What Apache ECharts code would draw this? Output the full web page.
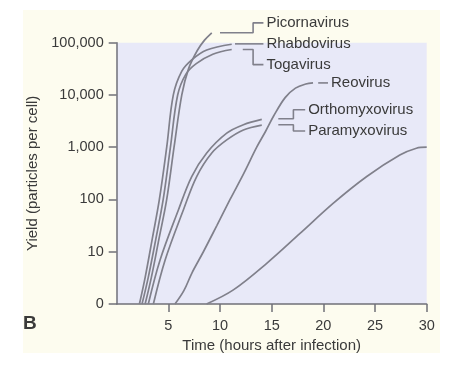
<!DOCTYPE html>
<html>
<head>
<meta charset="utf-8">
<script src="https://cdn.jsdelivr.net/npm/echarts@6/dist/echarts.min.js"></script>
<style>
html,body{margin:0;padding:0;background:#ffffff;}
#c{width:474px;height:366px;}
</style>
</head>
<body>
<div id="c"></div>
<script>
// ---- data: [hours after infection, yield (particles per cell)] ----
const picornavirus = [[2.75,1],[3.35,3.2],[4.1,18],[4.84,100],[5.55,1000],[6.3,10000],[6.95,31600],[7.8,70800],[8.5,112000],[9.2,155000]];
const rhabdovirus  = [[2.2,1],[2.75,3.2],[3.45,18],[4.13,100],[4.84,1000],[5.48,10000],[6.29,28200],[7.26,46800],[8.71,72400],[11.13,93300]];
const togavirus    = [[2.45,1],[3.05,3.2],[3.8,18],[4.5,100],[5.2,1000],[5.9,10000],[6.7,25100],[7.7,39800],[9.3,60300],[11.13,74100]];
const reovirus     = [[5.64,1],[6.5,1.8],[7.3,4],[8.39,10],[9.7,32],[10.97,100],[12.3,316],[13.55,1000],[14.4,2000],[15.2,4000],[16.3,8900],[17.3,13500],[18.3,16200],[19.0,17000]];
const orthomyxovirus = [[3.06,1],[4.19,6.9],[5.97,63],[7.26,275],[8.71,776],[10.65,1860],[12.26,2690],[14.04,3400]];
const paramyxovirus  = [[3.55,1],[4.68,6.9],[6.45,63],[7.74,275],[9.2,776],[10.65,1380],[12.26,2140],[14.04,2650]];
const retrovirus     = [[8.7,1],[11.29,1.86],[14.52,6.0],[17.74,22.4],[20.97,85],[24.2,275],[27.4,708],[29.0,955],[30,1000]];

const xTicks = [5,10,15,20,25,30];

// label leader lines (data coordinates) and names
const leaders = [
  {name:'Picornavirus',   pts:[[10.0,155000],[13.2,155000],[13.2,240000],[14.2,240000]]},
  {name:'Rhabdovirus',    pts:[[11.45,95000],[14.2,95000]]},
  {name:'Togavirus',      pts:[[12.2,74000],[13.2,74000],[13.2,38000],[14.2,38000]]},
  {name:'Reovirus',       pts:[[19.5,17000],[20.45,17000]]},
  {name:'Orthomyxovirus', pts:[[15.64,3500],[17.1,3500],[17.1,5200],[18.24,5200]]},
  {name:'Paramyxovirus',  pts:[[15.64,2700],[17.1,2700],[17.1,2050],[18.24,2050]]}
];
const retroLabel = {name:'Retrovirus', pos:[25.3,48]};

const LINE = '#80808b';
const TXT = '#3a3a3a';
const FONT = '"Liberation Sans", Arial, Helvetica, sans-serif';

const curves = [picornavirus, rhabdovirus, togavirus, reovirus, orthomyxovirus, paramyxovirus, retrovirus];
const series = [];
curves.forEach(d => series.push({
  type:'line', data:d, smooth:0.35, showSymbol:false, symbol:'none',
  clip:false, lineStyle:{color:LINE, width:1.7}, silent:true
}));
leaders.forEach(l => {
  series.push({type:'line', name:l.name, data:l.pts, smooth:false, symbol:'none', showSymbol:false, clip:false,
    lineStyle:{color:LINE, width:1.6}, silent:true,
    endLabel:{show:true, distance:3, formatter:l.name, color:TXT, fontSize:15, fontFamily:FONT}});
});
series.push({type:'scatter', data:[retroLabel.pos], symbolSize:1, itemStyle:{opacity:0}, clip:false, silent:true,
  label:{show:true, position:'inside', formatter:retroLabel.name, color:TXT, fontSize:15, fontFamily:FONT}});

const chart = echarts.init(document.getElementById('c'), null, {renderer:'canvas'});
chart.setOption({
  animation:false,
  backgroundColor:'#ffffff',
  graphic:[
    {type:'rect', z:-10, shape:{x:23, y:10, width:417, height:343}, style:{fill:'#fdfcef'}},
    {type:'text', left:23, top:314, style:{text:'B', fontSize:19, fontWeight:'bold', fill:TXT, fontFamily:FONT}}
  ],
  grid:{left:116.7, right:47.3, top:42.7, bottom:62, show:true, backgroundColor:'#e8e9f8', borderWidth:0},
  xAxis:{
    type:'value', min:0, max:30, interval:5,
    name:'Time (hours after infection)', nameLocation:'middle', nameGap:29,
    nameTextStyle:{color:TXT, fontSize:15, fontFamily:FONT},
    axisLine:{lineStyle:{color:'#707078', width:1.5}},
    axisTick:{customValues:xTicks, length:8, lineStyle:{color:'#707078', width:1.5}},
    axisLabel:{customValues:xTicks, margin:14, color:TXT, fontSize:14.5, fontFamily:FONT},
    splitLine:{show:false}
  },
  yAxis:{
    type:'log', logBase:10, min:1, max:100000,
    name:'Yield (particles per cell)', nameLocation:'middle', nameGap:66,
    nameTextStyle:{color:TXT, fontSize:15, fontFamily:FONT},
    axisLine:{lineStyle:{color:'#707078', width:1.5}},
    axisTick:{length:8, lineStyle:{color:'#707078', width:1.5}},
    axisLabel:{margin:13, color:TXT, fontSize:14.5, fontFamily:FONT,
      formatter:v => (Math.abs(v-1) < 1e-9 ? '0' : Math.round(v).toLocaleString('en-US'))},
    splitLine:{show:false}, minorTick:{show:false}
  },
  series:series
});
</script>
</body>
</html>
